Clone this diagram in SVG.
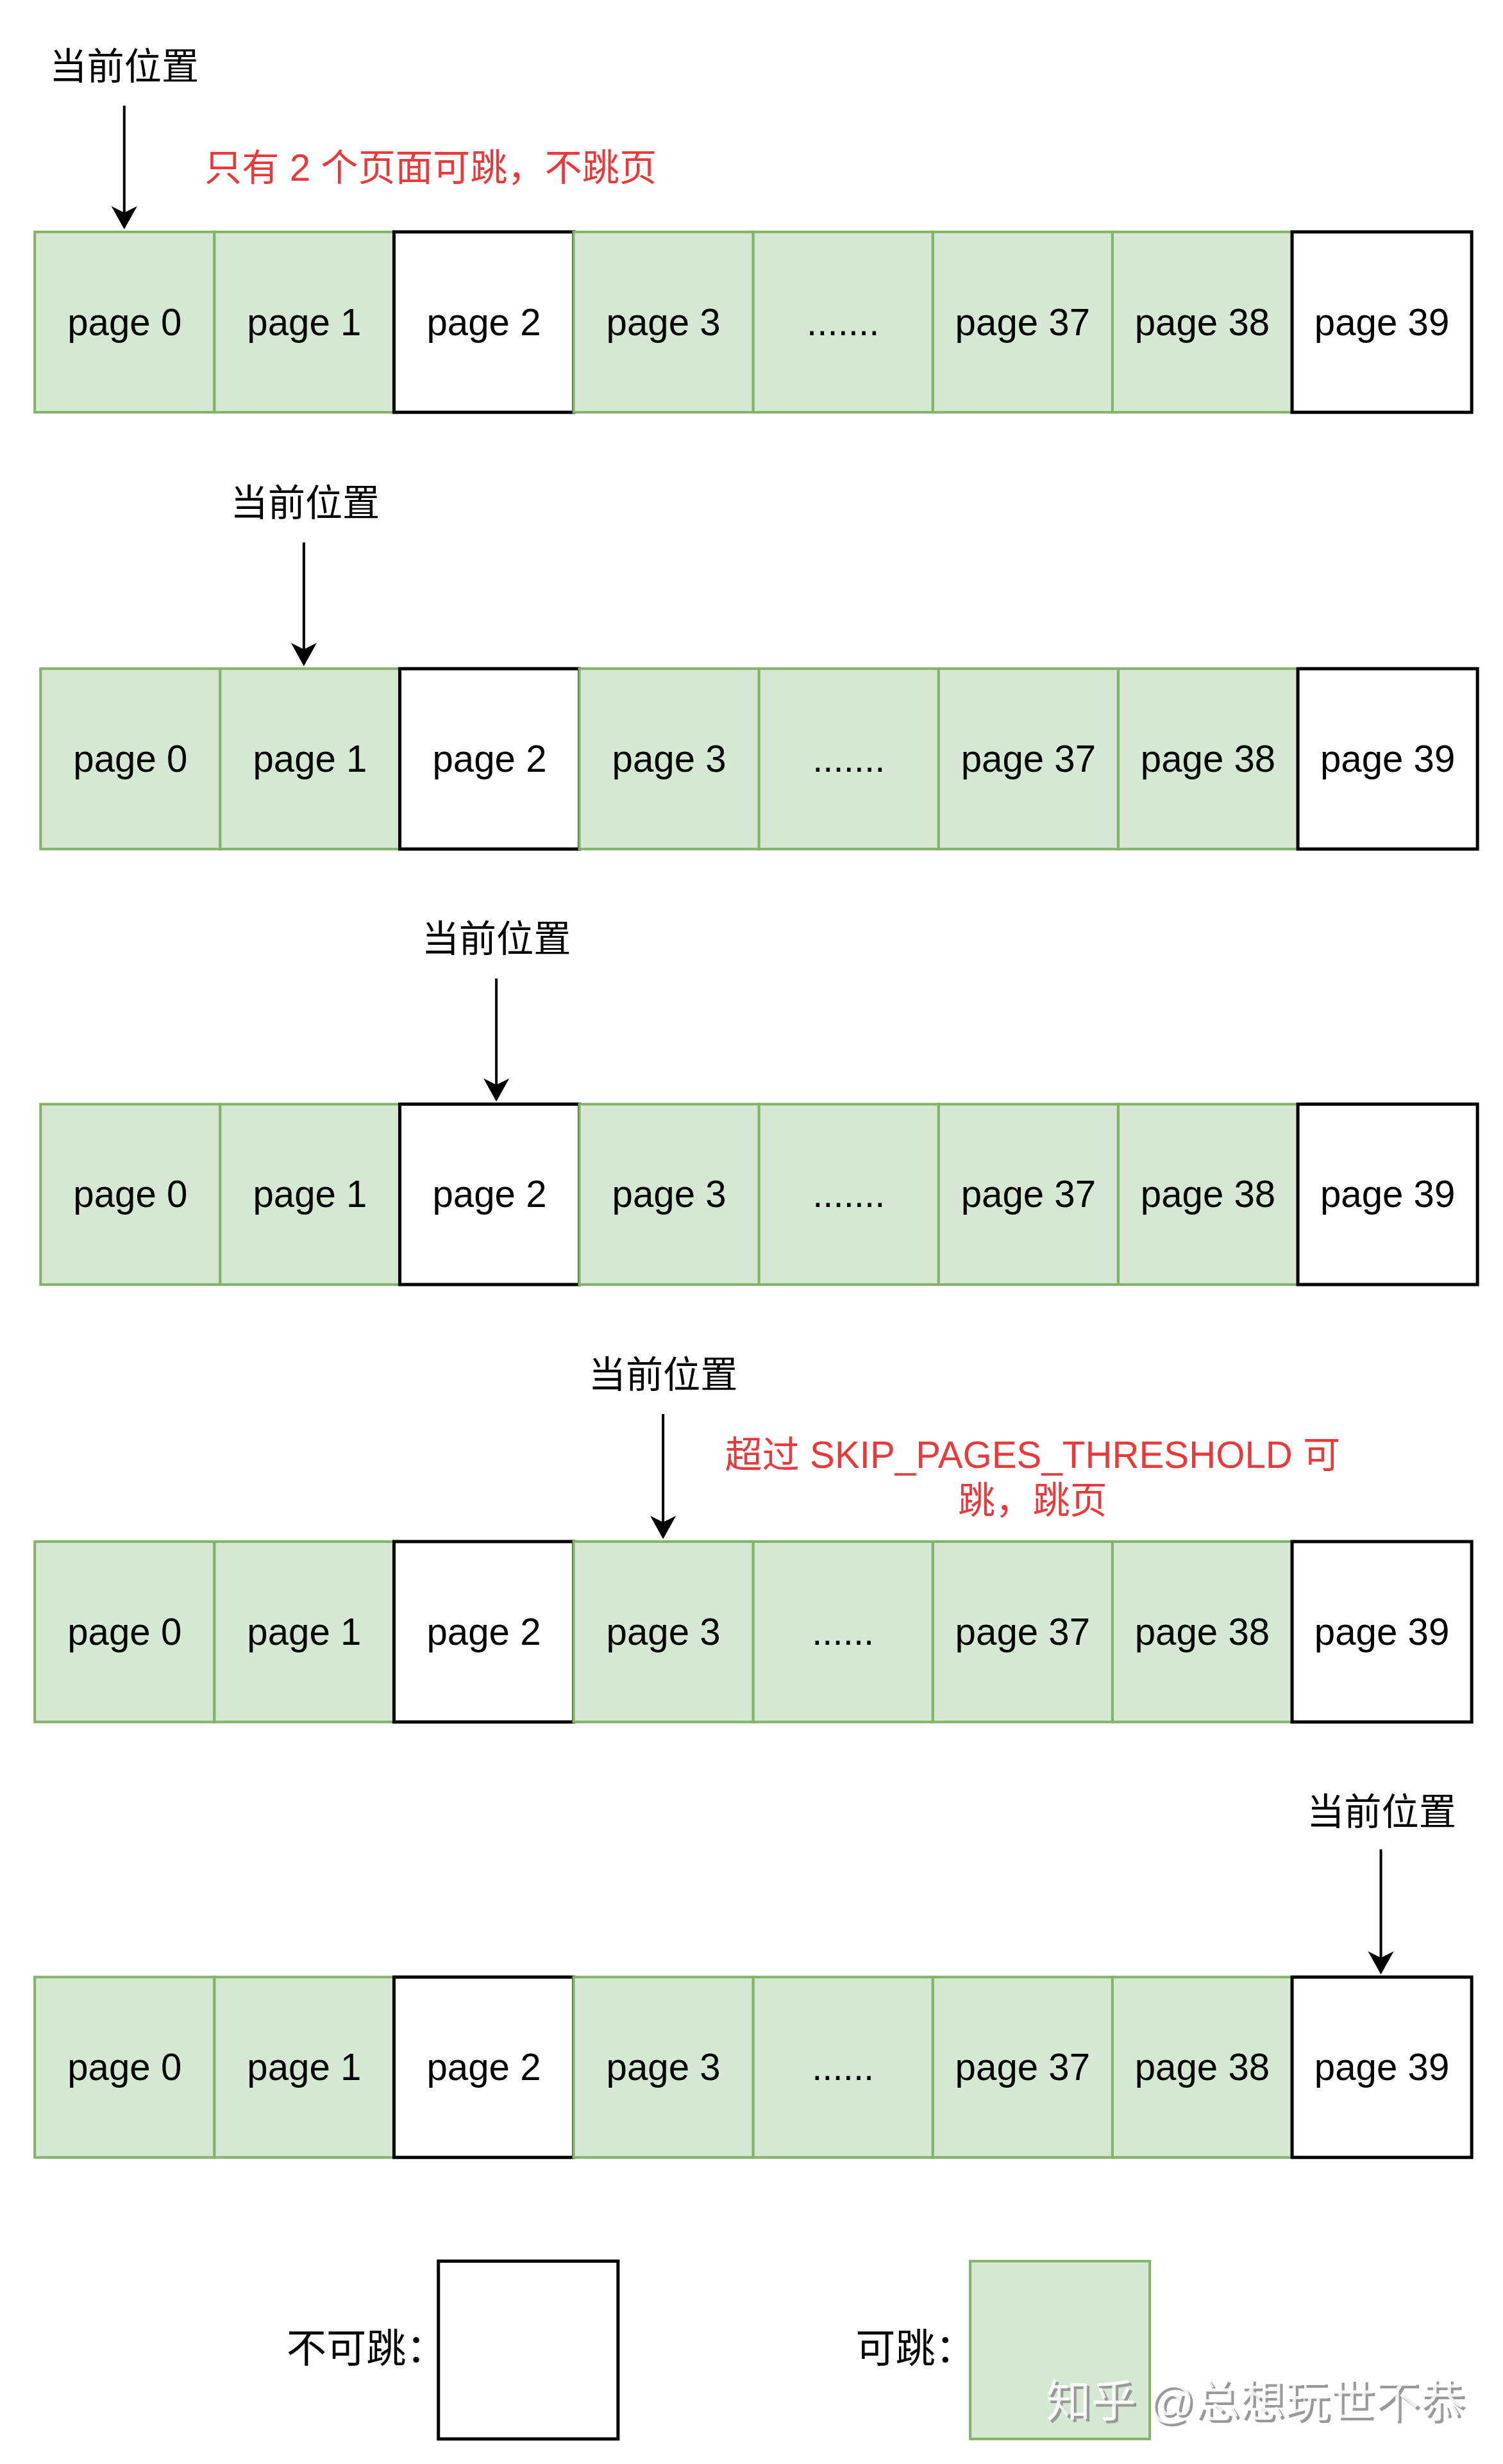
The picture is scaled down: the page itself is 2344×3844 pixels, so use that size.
<svg xmlns="http://www.w3.org/2000/svg" width="2344" height="3844" viewBox="0 0 2344 3844">
<style>
.g{fill:#d5e8d4;stroke:#82b366;stroke-width:4}
.w{fill:#fff;stroke:#000;stroke-width:5}
.t{font-family:"Liberation Sans","Noto Sans CJK SC",sans-serif;font-size:58px;fill:#000;text-anchor:middle}
.r{fill:#e83a3a}
.a{stroke:#000;stroke-width:4;fill:none}
</style>
<defs><marker id="ah" markerWidth="10" markerHeight="10" refX="8" refY="5" orient="auto" markerUnits="strokeWidth"><path d="M0,0 L9,5 L0,10 L2.5,5 Z" fill="#000"/></marker></defs>
<rect width="2344" height="3844" fill="#fff"/>
<g transform="scale(1.004,1.005)">
<g id="row1">
<rect class="g" x="54" y="360" width="279" height="280"/><text class="t" x="193.5" y="520">page 0</text>
<rect class="g" x="333" y="360" width="279" height="280"/><text class="t" x="472.5" y="520">page 1</text>
<rect class="w" x="612" y="360" width="279" height="280"/><text class="t" x="751.5" y="520">page 2</text>
<rect class="g" x="891" y="360" width="279" height="280"/><text class="t" x="1030.5" y="520">page 3</text>
<rect class="g" x="1170" y="360" width="279" height="280"/><text class="t" x="1309.5" y="520">.......</text>
<rect class="g" x="1449" y="360" width="279" height="280"/><text class="t" x="1588.5" y="520">page 37</text>
<rect class="g" x="1728" y="360" width="279" height="280"/><text class="t" x="1867.5" y="520">page 38</text>
<rect class="w" x="2007" y="360" width="279" height="280"/><text class="t" x="2146.5" y="520">page 39</text>
<text class="t" x="193" y="123">当前位置</text>
<text class="t r" x="669" y="281">只有 2 个页面可跳，不跳页</text>
</g>
<g id="row2" transform="translate(9,678)">
<rect class="g" x="54" y="360" width="279" height="280"/><text class="t" x="193.5" y="520">page 0</text>
<rect class="g" x="333" y="360" width="279" height="280"/><text class="t" x="472.5" y="520">page 1</text>
<rect class="w" x="612" y="360" width="279" height="280"/><text class="t" x="751.5" y="520">page 2</text>
<rect class="g" x="891" y="360" width="279" height="280"/><text class="t" x="1030.5" y="520">page 3</text>
<rect class="g" x="1170" y="360" width="279" height="280"/><text class="t" x="1309.5" y="520">.......</text>
<rect class="g" x="1449" y="360" width="279" height="280"/><text class="t" x="1588.5" y="520">page 37</text>
<rect class="g" x="1728" y="360" width="279" height="280"/><text class="t" x="1867.5" y="520">page 38</text>
<rect class="w" x="2007" y="360" width="279" height="280"/><text class="t" x="2146.5" y="520">page 39</text>
</g>
<g id="row3" transform="translate(9,1354)">
<rect class="g" x="54" y="360" width="279" height="280"/><text class="t" x="193.5" y="520">page 0</text>
<rect class="g" x="333" y="360" width="279" height="280"/><text class="t" x="472.5" y="520">page 1</text>
<rect class="w" x="612" y="360" width="279" height="280"/><text class="t" x="751.5" y="520">page 2</text>
<rect class="g" x="891" y="360" width="279" height="280"/><text class="t" x="1030.5" y="520">page 3</text>
<rect class="g" x="1170" y="360" width="279" height="280"/><text class="t" x="1309.5" y="520">.......</text>
<rect class="g" x="1449" y="360" width="279" height="280"/><text class="t" x="1588.5" y="520">page 37</text>
<rect class="g" x="1728" y="360" width="279" height="280"/><text class="t" x="1867.5" y="520">page 38</text>
<rect class="w" x="2007" y="360" width="279" height="280"/><text class="t" x="2146.5" y="520">page 39</text>
</g>
<g id="row4" transform="translate(0,2033)">
<rect class="g" x="54" y="360" width="279" height="280"/><text class="t" x="193.5" y="520">page 0</text>
<rect class="g" x="333" y="360" width="279" height="280"/><text class="t" x="472.5" y="520">page 1</text>
<rect class="w" x="612" y="360" width="279" height="280"/><text class="t" x="751.5" y="520">page 2</text>
<rect class="g" x="891" y="360" width="279" height="280"/><text class="t" x="1030.5" y="520">page 3</text>
<rect class="g" x="1170" y="360" width="279" height="280"/><text class="t" x="1309.5" y="520">......</text>
<rect class="g" x="1449" y="360" width="279" height="280"/><text class="t" x="1588.5" y="520">page 37</text>
<rect class="g" x="1728" y="360" width="279" height="280"/><text class="t" x="1867.5" y="520">page 38</text>
<rect class="w" x="2007" y="360" width="279" height="280"/><text class="t" x="2146.5" y="520">page 39</text>
</g>
<g id="row5" transform="translate(0,2709)">
<rect class="g" x="54" y="360" width="279" height="280"/><text class="t" x="193.5" y="520">page 0</text>
<rect class="g" x="333" y="360" width="279" height="280"/><text class="t" x="472.5" y="520">page 1</text>
<rect class="w" x="612" y="360" width="279" height="280"/><text class="t" x="751.5" y="520">page 2</text>
<rect class="g" x="891" y="360" width="279" height="280"/><text class="t" x="1030.5" y="520">page 3</text>
<rect class="g" x="1170" y="360" width="279" height="280"/><text class="t" x="1309.5" y="520">......</text>
<rect class="g" x="1449" y="360" width="279" height="280"/><text class="t" x="1588.5" y="520">page 37</text>
<rect class="g" x="1728" y="360" width="279" height="280"/><text class="t" x="1867.5" y="520">page 38</text>
<rect class="w" x="2007" y="360" width="279" height="280"/><text class="t" x="2146.5" y="520">page 39</text>
</g>
<g id="labels">
<text class="t" x="474" y="801">当前位置</text>
<text class="t" x="771" y="1478">当前位置</text>
<text class="t" x="1030" y="2154">当前位置</text>
<text class="t r" x="1604" y="2279">超过 SKIP_PAGES_THRESHOLD 可</text>
<text class="t r" x="1604" y="2349">跳，跳页</text>
<text class="t" x="2146" y="2833">当前位置</text>
</g>
<g id="connectors">
<line class="a" x1="193" y1="164" x2="193" y2="352" marker-end="url(#ah)"/>
<line class="a" x1="472" y1="842" x2="472" y2="1030" marker-end="url(#ah)"/>
<line class="a" x1="771" y1="1519" x2="771" y2="1706" marker-end="url(#ah)"/>
<line class="a" x1="1030" y1="2195" x2="1030" y2="2385" marker-end="url(#ah)"/>
<line class="a" x1="2145" y1="2871" x2="2145" y2="3061" marker-end="url(#ah)"/>
</g>
<g id="legend">
<rect class="w" x="681" y="3510" width="279" height="276"/>
<text class="t" x="693" y="3668" style="text-anchor:end;font-size:62px">不可跳：</text>
<rect class="g" x="1507" y="3510" width="279" height="276"/>
<text class="t" x="1515" y="3668" style="text-anchor:end;font-size:62px">可跳：</text>
</g>
<g id="watermark">
<text class="t" x="1954" y="3756" style="fill:#999;font-size:70px">知乎 @总想玩世不恭</text>
<text class="t" x="1950" y="3752" style="fill:#fff;opacity:0.85;font-size:70px">知乎 @总想玩世不恭</text>
</g>
</g>
</svg>
